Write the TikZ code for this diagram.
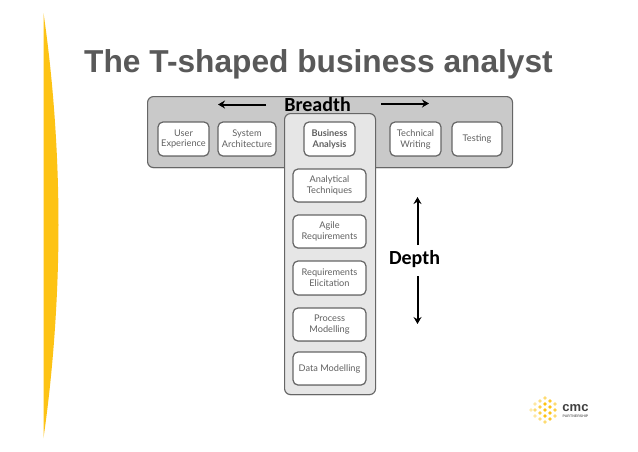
\documentclass[tikz,border=0pt]{standalone}
\usepackage{fontspec}
\setmainfont{Liberation Sans}
\newfontfamily\boxfont{Lato}
\newfontfamily\labelfont{Carlito}
\usetikzlibrary{arrows.meta,shadows}
\definecolor{barfill}{HTML}{C9C9C9}
\definecolor{panelfill}{HTML}{E6E6E6}
\definecolor{edgegray}{HTML}{666666}
\definecolor{textgray}{HTML}{606060}
\definecolor{titlegray}{HTML}{595959}
\definecolor{sunyellow}{HTML}{FDC314}
\tikzset{
  x=1pt,y=-1pt,
  panelbox/.style={draw=edgegray,line width=1.1pt,rounded corners=6pt,inner sep=0pt,anchor=north west,
    drop shadow={shadow xshift=0pt,shadow yshift=-1pt,opacity=.25}},
  itembox/.style={draw=edgegray,fill=white,line width=1.2pt,rounded corners=5pt,inner sep=0pt,align=center,
    anchor=center,text=textgray,font=\boxfont\fontsize{9.2}{10.9}\selectfont,
    drop shadow={shadow xshift=0pt,shadow yshift=-.8pt,opacity=.3}},
  dimlabel/.style={font=\labelfont\bfseries\fontsize{20}{22}\selectfont,text=black,inner sep=0pt},
  dimarrow/.style={draw=black,line width=2pt,-{Stealth[length=7pt,width=8pt]}},
  logodot/.style={circle,inner sep=0pt,minimum size=3.4pt}
}
\newcommand{\itemnode}[6]{% name, x0, y0, x1, y1, text
  \pgfmathsetmacro{\cxv}{(#2+#4)/2}\pgfmathsetmacro{\cyv}{(#3+#5)/2}
  \pgfmathsetmacro{\wv}{#4-#2}\pgfmathsetmacro{\hv}{#5-#3}
  \node[itembox,minimum width=\wv pt,minimum height=\hv pt] (#1) at (\cxv,\cyv) {#6};}
\begin{document}
\begin{tikzpicture}
\useasboundingbox (0,0) rectangle (638,451);
\fill[white] (0,0) rectangle (638,451);
% crescent
\fill[sunyellow] (43.5,13) .. controls (54,85) and (58.5,160) .. (58.5,225)
  .. controls (58.5,290) and (54,365) .. (43.5,438) -- cycle;
% title
\node[anchor=base west,inner sep=0pt,text=titlegray,font=\bfseries\fontsize{31.7}{36}\selectfont] (title) at (84,72) {The T-shaped business analyst};
% panels
\node[panelbox,fill=barfill,minimum width=365pt,minimum height=71pt] (bar) at (147,96) {};
\node[panelbox,fill=panelfill,minimum width=91pt,minimum height=281pt] (panel) at (284,113) {};
% items
\itemnode{ux}{158}{122}{209}{156}{User\\Experience}
\itemnode{sys}{218}{122}{276}{156}{System\\Architecture}
\itemnode{ba}{304}{122}{355}{156}{\textbf{Business}\\\textbf{Analysis}}
\itemnode{tw}{390}{122}{441}{156}{Technical\\Writing}
\itemnode{test}{452}{122}{502}{156}{Testing}
\itemnode{at}{293}{169}{366}{202}{Analytical\\Techniques}
\itemnode{ar}{293}{215}{366}{248}{Agile\\Requirements}
\itemnode{re}{293}{261}{366}{295}{Requirements\\Elicitation}
\itemnode{pm}{293}{308}{366}{341}{Process\\Modelling}
\itemnode{dm}{293}{352}{366}{385}{Data Modelling}
% labels
\node[dimlabel] (breadth) at (317.5,105) {Breadth};
\node[dimlabel] (depth) at (414.5,259) {Depth};
% arrows
\coordinate (bl0) at (266,104.5); \coordinate (bl1) at (218,104.5);
\coordinate (br0) at (381,103.5); \coordinate (br1) at (429,103.5);
\coordinate (du0) at (417.5,245); \coordinate (du1) at (417.5,197);
\coordinate (dd0) at (417.5,276); \coordinate (dd1) at (417.5,324);
\draw[dimarrow] (bl0) -- (bl1);
\draw[dimarrow] (br0) -- (br1);
\draw[dimarrow] (du0) -- (du1);
\draw[dimarrow] (dd0) -- (dd1);
% logo
\foreach \px/\py/\op in {
  531/410/.35,
  535/404/.4,535/410/.6,535/416/.4,
  540/401/.55,540/407/.8,540/413/.8,540/419/.55,
  545/398/.6,545/404/1,545/410/1,545/416/1,545/422/.6,
  550/401/.9,550/407/1,550/413/1,550/419/.9,
  555/404/.6,555/410/.8,555/416/.6}{
  \fill[sunyellow,opacity=\op] (\px,\py) circle (1.8);
}
\node[inner sep=0pt,anchor=center,text=black!75,font=\bfseries\fontsize{13}{13}\selectfont] (cmc) at (575.5,408.5) {cmc};
\node[inner sep=0pt,anchor=center,text=black!55,font=\bfseries\fontsize{3.6}{4}\selectfont] (partner) at (575.5,416) {PARTNERSHIP};
\end{tikzpicture}
\end{document}
